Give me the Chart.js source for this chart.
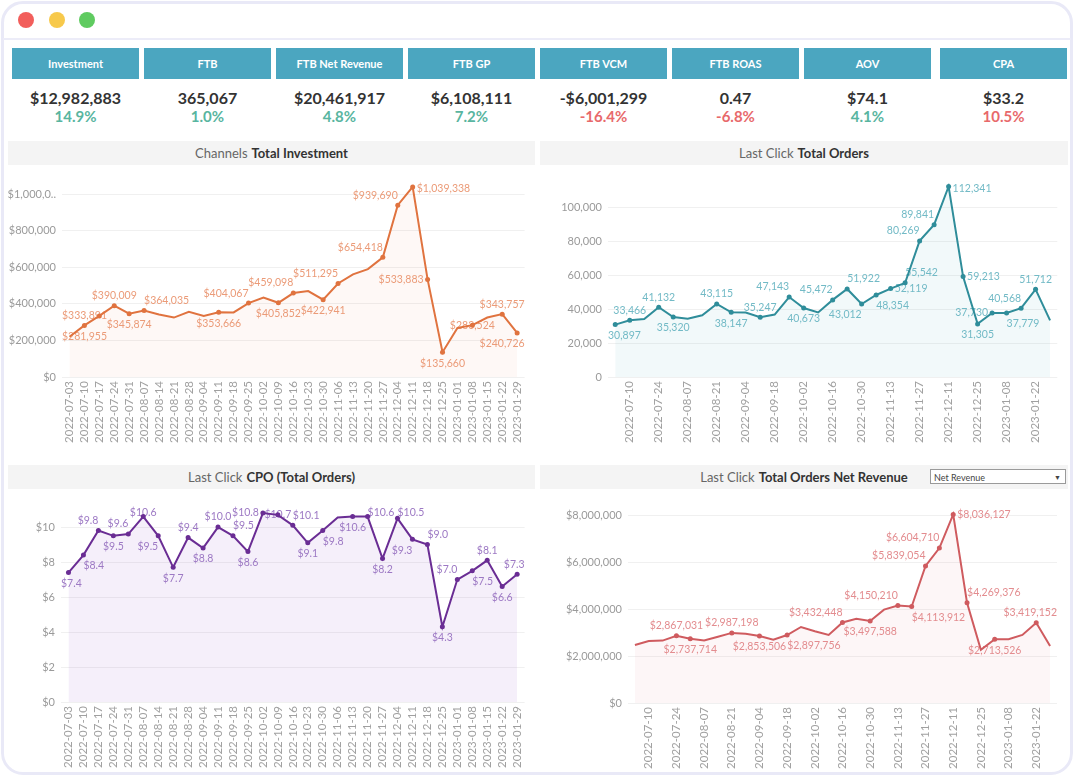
<!DOCTYPE html>
<html>
<head>
<meta charset="utf-8">
<script src="https://cdn.jsdelivr.net/npm/chart.js@4.4.0/dist/chart.umd.min.js"></script>
<style>
  body { margin: 0; width: 1074px; height: 776px; background: #fff; font-family: Lato, sans-serif; position: relative; overflow: hidden; }
  .frame { position: absolute; left: 1px; top: 1px; width: 1066px; height: 768px; border: 3px solid #e9e9f7; border-radius: 22px; }
  .sep { position: absolute; left: 3px; top: 38px; width: 1068px; height: 2px; background: #ececf8; }
  .dot { position: absolute; top: 12px; width: 16px; height: 16px; border-radius: 50%; }
  .tile { position: absolute; top: 48px; height: 31px; width: 127px; background: #4ba6c0; color: #fff; font-size: 11px; font-weight: bold; display: flex; align-items: center; justify-content: center; }
  .kval { position: absolute; top: 88px; width: 127px; text-align: center; font-size: 16px; font-weight: bold; color: #333; }
  .kchg { position: absolute; top: 107px; width: 127px; text-align: center; font-size: 15px; font-weight: bold; }
  .bar { position: absolute; height: 24px; background: #f4f4f4; display: flex; align-items: center; justify-content: center; font-size: 13px; color: #666; }
  .bar b { color: #333; margin-left: 4px; }
  .drop { position: absolute; left: 930px; top: 469px; width: 136px; height: 15px; border: 1px solid #9a9a9a; background: #fff; font-size: 9px; color: #444; line-height: 15px; padding-left: 3px; box-sizing: border-box; }
  .drop span { position: absolute; right: 4px; top: 0; font-size: 7px; }
  canvas { position: absolute; }
</style>
</head>
<body>
<div class="frame"></div>
<div class="sep"></div>
<div class="dot" style="left:18px;background:#f25e5b"></div>
<div class="dot" style="left:49px;background:#f7c94b"></div>
<div class="dot" style="left:79px;background:#5fcb60"></div>
<div id="kpis"></div>

<div class="bar" style="left:8px;top:141px;width:527px">Channels<b>Total Investment</b></div>
<div class="bar" style="left:540px;top:141px;width:528px">Last Click<b>Total Orders</b></div>
<div class="bar" style="left:8px;top:465px;width:527px">Last Click<b>CPO (Total Orders)</b></div>
<div class="bar" style="left:540px;top:465px;width:528px">Last Click<b>Total Orders Net Revenue</b></div>
<div class="drop">Net Revenue<span>&#9660;</span></div>

<canvas id="invChart" width="527" height="290" style="left:8px;top:166px"></canvas>
<canvas id="ordChart" width="528" height="290" style="left:540px;top:166px"></canvas>
<canvas id="cpoChart" width="527" height="280" style="left:8px;top:490px"></canvas>
<canvas id="revChart" width="528" height="280" style="left:540px;top:490px"></canvas>

<script>
// KPI header
const kpiNames = ['Investment', 'FTB', 'FTB Net Revenue', 'FTB GP', 'FTB VCM', 'FTB ROAS', 'AOV', 'CPA'];
const kpiValues = ['$12,982,883', '365,067', '$20,461,917', '$6,108,111', '-$6,001,299', '0.47', '$74.1', '$33.2'];
const kpiChanges = ['14.9%', '1.0%', '4.8%', '7.2%', '-16.4%', '-6.8%', '4.1%', '10.5%'];
const kpiGood = [true, true, true, true, false, false, true, false];

// weekly series
const weeks = ['2022-07-03','2022-07-10','2022-07-17','2022-07-24','2022-07-31','2022-08-07','2022-08-14','2022-08-21','2022-08-28',
  '2022-09-04','2022-09-11','2022-09-18','2022-09-25','2022-10-02','2022-10-09','2022-10-16','2022-10-23','2022-10-30',
  '2022-11-06','2022-11-13','2022-11-20','2022-11-27','2022-12-04','2022-12-11','2022-12-18','2022-12-25',
  '2023-01-01','2023-01-08','2023-01-15','2023-01-22','2023-01-29'];
const investment = [220000, 281955, 333891, 390009, 345874, 364035, 342000, 325000, 356000, 334000, 353666, 353000, 404067, 435000, 405852,
  459098, 470000, 422941, 511295, 561000, 590000, 654418, 939690, 1039338, 533883, 135660, 268000, 283524, 325000, 343757, 240726];
const orders = [30897, 33466, 34200, 41132, 35320, 34300, 36400, 43115, 38147, 38000, 35247, 36800, 47143, 40673, 38100,
  45472, 51922, 43012, 48354, 52119, 55542, 80269, 89841, 112341, 59213, 31305, 37730, 37779, 40568, 51712, 33400];
const cpo = [7.4, 8.4, 9.8, 9.5, 9.6, 10.6, 9.5, 7.7, 9.4, 8.8, 10.0, 9.5, 8.6, 10.8, 10.7,
  10.1, 9.1, 9.8, 10.55, 10.6, 10.6, 8.2, 10.5, 9.3, 9.0, 4.3, 7.0, 7.5, 8.1, 6.6, 7.3];
const netRevenue = [2470000, 2640000, 2660000, 2867031, 2737714, 2660000, 2820000, 2987198, 2950000, 2853506, 2700000, 2897756, 3240000, 3060000, 2900000,
  3432448, 3590000, 3497588, 3980000, 4150210, 4113912, 5839054, 6604710, 8036127, 4269376, 2270000, 2713526, 2720000, 2900000, 3419152, 2430000];

// which points get a value label, and where (a=above, b=below, l/r=side)
const invLabels = [[1,'b'],[2,'l'],[3,'a'],[4,'b'],[5,'ar'],[10,'b'],[12,'al'],[14,'b'],[15,'al'],[17,'b'],[18,'al'],
  [21,'al'],[22,'al'],[23,'r'],[24,'l'],[25,'b'],[27,'c'],[29,'a'],[30,'b']];
const ordLabels = [[0,'b'],[1,'a'],[3,'a'],[4,'b'],[7,'a'],[8,'b'],[10,'a'],[12,'al'],[13,'b'],[15,'al'],[16,'ar'],[17,'bl'],
  [18,'br'],[19,'r'],[20,'ar'],[21,'al'],[22,'al'],[23,'r'],[24,'r'],[25,'b'],[26,'l'],[27,'br'],[28,'al'],[29,'a']];
const cpoLabels = [[0,'b'],[1,'br'],[2,'al'],[3,'b'],[4,'al'],[5,'a'],[6,'bl'],[7,'b'],[8,'a'],[9,'b'],[10,'a'],[11,'ar'],[12,'b'],
  [13,'l'],[14,'c'],[15,'ar'],[16,'b'],[17,'br'],[19,'b'],[20,'ar'],[21,'b'],[22,'ar'],[23,'bl'],[24,'ar'],[25,'b'],[26,'al'],
  [27,'br'],[28,'a'],[29,'b'],[30,'a']];
const revLabels = [[3,'a'],[4,'b'],[7,'a'],[9,'b'],[11,'br'],[15,'al'],[17,'b'],[19,'al'],[20,'br'],[21,'al'],[22,'al'],
  [23,'r'],[24,'ar'],[26,'b'],[29,'a']];

const kpis = document.getElementById('kpis');
kpiNames.forEach((name, i) => {
  const left = 12 + 132 * i + (i === 7 ? 4 : 0);
  kpis.innerHTML += '<div class="tile" style="left:' + left + 'px">' + name + '</div>' +
    '<div class="kval" style="left:' + left + 'px">' + kpiValues[i] + '</div>' +
    '<div class="kchg" style="left:' + left + 'px;color:' + (kpiGood[i] ? '#58b5a0' : '#e8696b') + '">' + kpiChanges[i] + '</div>';
});

const money = v => '$' + Math.round(v).toLocaleString('en-US');

const pointLabels = {
  id: 'pointLabels',
  beforeDatasetDraw(chart, args, opts) {
    const ctx = chart.ctx, area = chart.chartArea;
    const meta = chart.getDatasetMeta(0);
    const vals = chart.data.datasets[0].data;
    ctx.save();
    ctx.font = '10.5px Lato';
    ctx.fillStyle = opts.color;
    ctx.textAlign = 'center';
    ctx.textBaseline = 'middle';
    opts.items.forEach(([i, pos]) => {
      const p = meta.data[i];
      const text = opts.format(vals[i]);
      const w = ctx.measureText(text).width;
      let cx = p.x, cy = p.y;
      if (pos[0] === 'a') cy -= 10;
      if (pos[0] === 'b') cy += 11;
      if (pos === 'l') cx = p.x - 4 - w / 2;
      else if (pos === 'r') cx = p.x + 4 + w / 2;
      else if (pos[1] === 'l') cx = p.x - w / 2;
      else if (pos[1] === 'r') cx = p.x + w / 2;
      cx = Math.min(Math.max(cx, area.left + w / 2), area.right - w / 2);
      cy = Math.max(cy, area.top + 10);
      ctx.fillText(text, cx, cy);
    });
    ctx.restore();
  }
};

function buildChart(id, values, cfg) {
  const labelled = new Set(cfg.labels.map(l => l[0]));
  return new Chart(document.getElementById(id), {
    type: 'line',
    data: {
      labels: weeks,
      datasets: [{
        data: values,
        borderColor: cfg.line,
        backgroundColor: cfg.fill,
        fill: 'origin',
        borderWidth: 2,
        tension: 0,
        pointRadius: weeks.map((w, i) => labelled.has(i) ? 2.5 : 0),
        pointBackgroundColor: cfg.line,
        pointBorderWidth: 0
      }]
    },
    options: {
      responsive: false,
      animation: false,
      layout: { padding: { left: 0, top: cfg.padTop, right: cfg.padRight, bottom: 0 } },
      plugins: {
        legend: { display: false },
        tooltip: { enabled: false },
        pointLabels: { items: cfg.labels, color: cfg.text, format: cfg.fmt }
      },
      scales: {
        x: {
          offset: true,
          grid: { display: false, drawTicks: false },
          border: { display: false },
          ticks: {
            autoSkip: false, minRotation: 90, maxRotation: 90, padding: 4,
            color: '#a0a0a0', font: { family: 'Lato', size: 11.5 },
            callback: (v, i) => (cfg.everyOther && i % 2 === 0) ? '' : weeks[i]
          },
          afterFit: s => { s.height = cfg.xh; }
        },
        y: {
          min: 0,
          max: cfg.max,
          grid: { color: '#f0f0f0', drawTicks: false },
          border: { display: false },
          ticks: { autoSkip: false, padding: 6, color: '#9a9a9a', font: { family: 'Lato', size: 11 }, callback: cfg.tick },
          afterBuildTicks: s => {
            const t = [];
            for (let k = 0; k * cfg.step <= cfg.max; k++) t.push({ value: k * cfg.step });
            s.ticks = t;
          },
          afterFit: s => { s.width = cfg.yw; }
        }
      }
    },
    plugins: [pointLabels]
  });
}

buildChart('invChart', investment, {
  line: '#e0733f', fill: 'rgba(240,140,100,0.06)', text: '#eb9b78',
  labels: invLabels, fmt: money, max: 1085000, step: 200000,
  tick: v => v === 1000000 ? '$1,000,0..' : money(v),
  yw: 54, xh: 79, padTop: 4, padRight: 4, everyOther: false
});
buildChart('ordChart', orders, {
  line: '#2f8d9a', fill: 'rgba(90,180,195,0.08)', text: '#72bac6',
  labels: ordLabels, fmt: v => v.toLocaleString('en-US'), max: 117000, step: 20000,
  tick: v => v.toLocaleString('en-US'),
  yw: 68, xh: 79, padTop: 4, padRight: 8, everyOther: true
});
buildChart('cpoChart', cpo, {
  line: '#6a2d94', fill: 'rgba(170,120,210,0.12)', text: '#9d79c4',
  labels: cpoLabels, fmt: v => '$' + v.toFixed(1), max: 11.4, step: 2,
  tick: v => '$' + v,
  yw: 53, xh: 68, padTop: 2, padRight: 4, everyOther: false
});
buildChart('revChart', netRevenue, {
  line: '#cf5b5f', fill: 'rgba(230,130,135,0.07)', text: '#e38c8f',
  labels: revLabels, fmt: money, max: 8540000, step: 2000000,
  tick: v => money(v),
  yw: 88, xh: 67, padTop: 2, padRight: 8, everyOther: true
});
</script>
</body>
</html>
